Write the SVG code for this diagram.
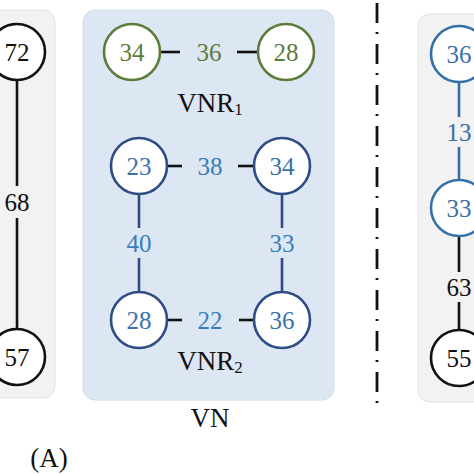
<svg xmlns="http://www.w3.org/2000/svg" width="474" height="474" viewBox="0 0 474 474">
<style>
.panel-g{fill:#f2f2f2;stroke:#e3e3e3;stroke-width:1}
.panel-b{fill:#dce7f3;stroke:#d0dcea;stroke-width:1}
.t{font-family:"Liberation Serif","Times New Roman",serif;text-anchor:middle;dominant-baseline:central}
.num{font-size:25px}
.lab{font-family:"Liberation Serif","Times New Roman",serif;font-size:27px;fill:#111;text-anchor:middle}
.nb{fill:#fff;stroke:#111;stroke-width:2.6}
.ng{fill:#fff;stroke:#5b7c3a;stroke-width:2.6}
.nn{fill:#fff;stroke:#2f4b85;stroke-width:2.6}
.nl{fill:#fff;stroke:#3570a8;stroke-width:2.6}
.e{stroke-width:2.6;fill:none}
</style>
<rect class="panel-g" x="-20" y="10" width="75" height="388" rx="12"/>
<rect class="panel-b" x="83" y="10" width="251" height="390" rx="12"/>
<rect class="panel-g" x="418" y="14" width="80" height="388" rx="12"/>
<line x1="377" y1="3" x2="377" y2="412" stroke="#111" stroke-width="2.8" stroke-dasharray="20 9 2 10"/>
<g id="connectors">
<line class="e" stroke="#111" x1="17" y1="80" x2="17" y2="186"/>
<line class="e" stroke="#111" x1="17" y1="218" x2="17" y2="329"/>
<line class="e" stroke="#111" x1="160" y1="52" x2="180" y2="52"/>
<line class="e" stroke="#111" x1="237" y1="52" x2="257" y2="52"/>
<line class="e" stroke="#111" x1="168" y1="166" x2="182" y2="166"/>
<line class="e" stroke="#111" x1="238" y1="166" x2="254" y2="166"/>
<line class="e" stroke="#111" x1="168" y1="320" x2="182" y2="320"/>
<line class="e" stroke="#111" x1="239" y1="320" x2="254" y2="320"/>
<line class="e" stroke="#2f4b85" x1="139" y1="194" x2="139" y2="228"/>
<line class="e" stroke="#2f4b85" x1="139" y1="258" x2="139" y2="292"/>
<line class="e" stroke="#2f4b85" x1="282" y1="194" x2="282" y2="228"/>
<line class="e" stroke="#2f4b85" x1="282" y1="258" x2="282" y2="292"/>
<line class="e" stroke="#3570a8" x1="459" y1="82" x2="459" y2="117"/>
<line class="e" stroke="#3570a8" x1="459" y1="147" x2="459" y2="180"/>
<line class="e" stroke="#111" x1="459" y1="236" x2="459" y2="272"/>
<line class="e" stroke="#111" x1="459" y1="302" x2="459" y2="330"/>
<text class="t num" x="17" y="202" fill="#111">68</text>
<text class="t num" x="209" y="52" fill="#5b7c3a">36</text>
<text class="t num" x="210" y="166" fill="#3a7db8">38</text>
<text class="t num" x="139" y="243" fill="#3a7db8">40</text>
<text class="t num" x="282" y="243" fill="#3a7db8">33</text>
<text class="t num" x="210" y="320" fill="#3a7db8">22</text>
<text class="t num" x="459" y="132" fill="#3a6fa8">13</text>
<text class="t num" x="459" y="287" fill="#111">63</text>
</g>
<g id="n72"><circle class="nb" cx="17" cy="52" r="28"/><text class="t num" x="17" y="52" fill="#111">72</text></g>
<g id="n57"><circle class="nb" cx="17" cy="357" r="28"/><text class="t num" x="17" y="357" fill="#111">57</text></g>
<g id="v34g"><circle class="ng" cx="132" cy="52" r="28"/><text class="t num" x="132" y="52" fill="#5b7c3a">34</text></g>
<g id="v28g"><circle class="ng" cx="286" cy="52" r="28"/><text class="t num" x="286" y="52" fill="#5b7c3a">28</text></g>
<g id="v23"><circle class="nn" cx="139" cy="166" r="28"/><text class="t num" x="139" y="166" fill="#3a72ab">23</text></g>
<g id="v34b"><circle class="nn" cx="282" cy="166" r="28"/><text class="t num" x="282" y="166" fill="#3a72ab">34</text></g>
<g id="v28b"><circle class="nn" cx="139" cy="320" r="28"/><text class="t num" x="139" y="320" fill="#3a72ab">28</text></g>
<g id="v36b"><circle class="nn" cx="282" cy="320" r="28"/><text class="t num" x="282" y="320" fill="#3a72ab">36</text></g>
<g id="s36"><circle class="nl" cx="459" cy="54" r="28"/><text class="t num" x="459" y="54" fill="#3a6fa8">36</text></g>
<g id="s33"><circle class="nl" cx="459" cy="208" r="28"/><text class="t num" x="459" y="208" fill="#3a6fa8">33</text></g>
<g id="s55"><circle class="nb" cx="459" cy="358" r="28"/><text class="t num" x="459" y="358" fill="#111">55</text></g>
<g id="labels">
<text class="lab" x="210" y="112">VNR<tspan font-size="17" dy="3">1</tspan></text>
<text class="lab" x="210" y="370">VNR<tspan font-size="17" dy="3">2</tspan></text>
<text class="lab" x="210" y="427" font-size="29">VN</text>
<text class="lab" x="49" y="467" font-size="28">(A)</text>
</g>
</svg>
